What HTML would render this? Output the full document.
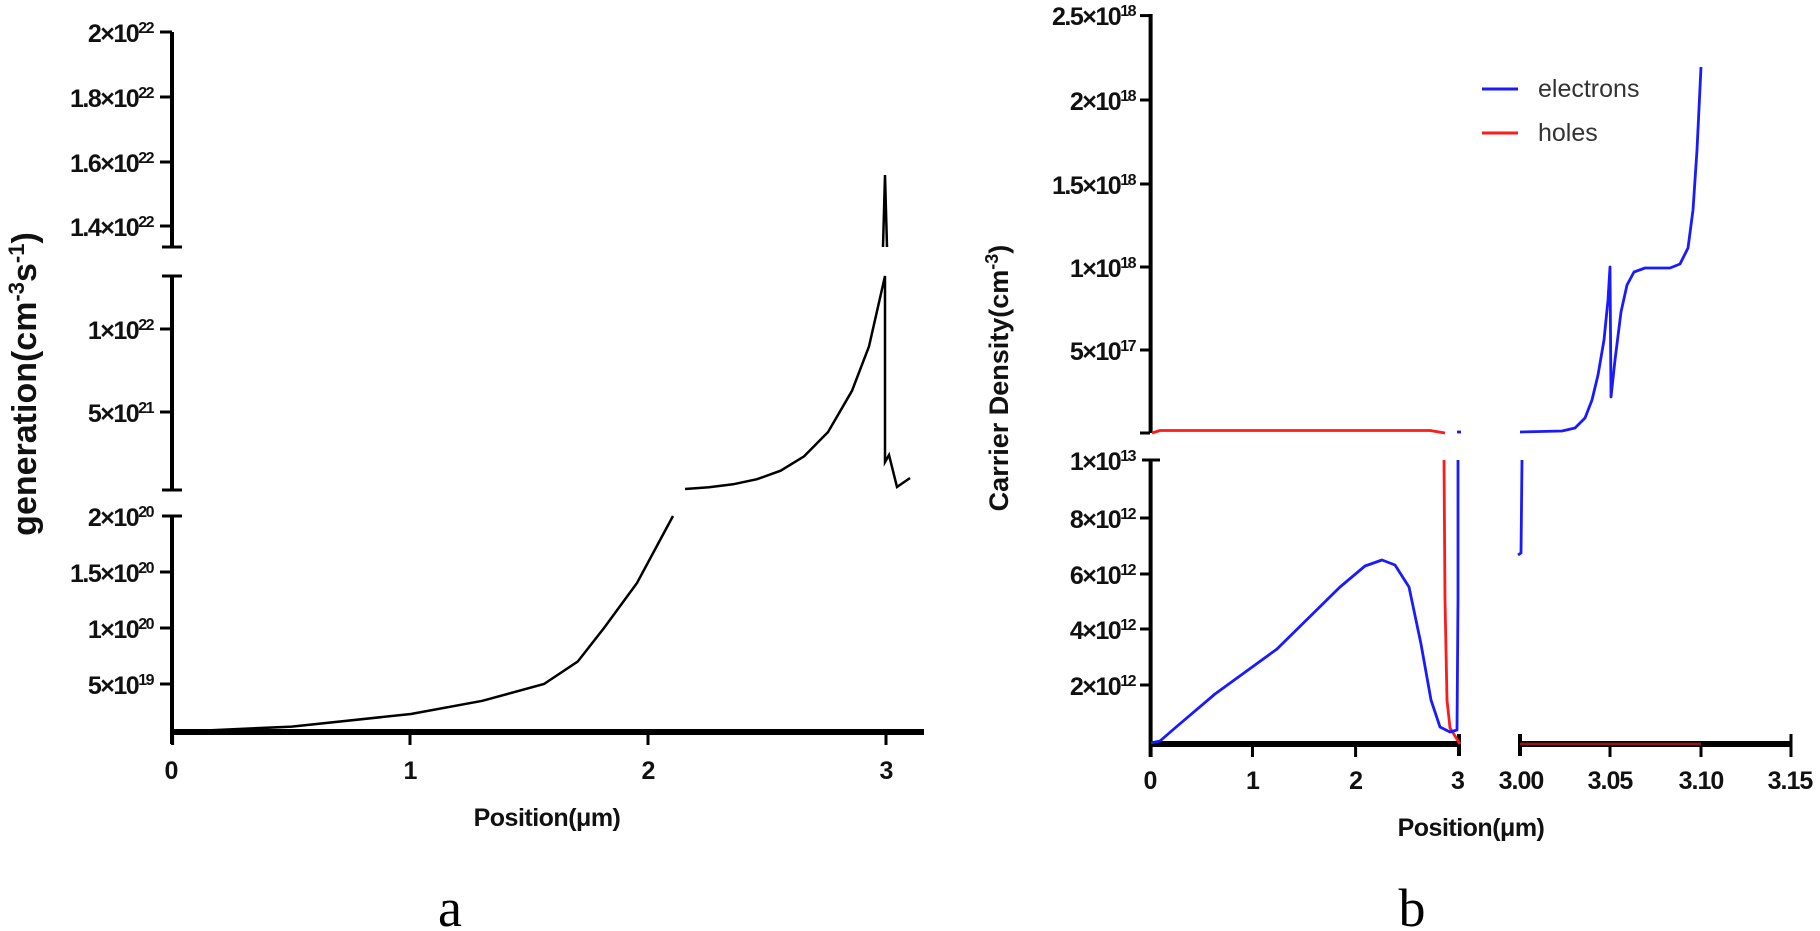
<!DOCTYPE html>
<html><head><meta charset="utf-8"><style>
html,body{margin:0;padding:0;background:#fff;}
svg{display:block;}
.sans{font-family:"Liberation Sans",Arial,sans-serif;}
.tl{font-size:25px;font-weight:bold;text-anchor:end;letter-spacing:-1.5px;fill:#111;}
.xl{font-size:25px;font-weight:bold;text-anchor:middle;letter-spacing:-1px;fill:#111;}
.ax{stroke:#000;stroke-width:4;fill:none;}
.tk{stroke:#000;stroke-width:3;}
.lab{font-family:"Liberation Serif","Times New Roman",serif;font-size:54px;fill:#000;text-anchor:middle;}
</style></head><body>
<svg width="1820" height="931" viewBox="0 0 1820 931" xmlns="http://www.w3.org/2000/svg">
<g class="sans">
<!-- ===== Chart a ===== -->
<line class="ax" x1="172" y1="32" x2="172" y2="247"/>
<line class="tk" x1="162" y1="247" x2="182" y2="247"/>
<line class="tk" x1="162" y1="276" x2="182" y2="276"/>
<line class="ax" x1="172" y1="276" x2="172" y2="490"/>
<line class="tk" x1="162" y1="490" x2="182" y2="490"/>
<line class="tk" x1="162" y1="516" x2="182" y2="516"/>
<line class="ax" x1="172" y1="516" x2="172" y2="744"/>
<g class="tk">
<line x1="160" y1="32" x2="172" y2="32"/><line x1="160" y1="97" x2="172" y2="97"/>
<line x1="160" y1="162" x2="172" y2="162"/><line x1="160" y1="226" x2="172" y2="226"/>
<line x1="160" y1="329" x2="172" y2="329"/><line x1="160" y1="412" x2="172" y2="412"/>
<line x1="160" y1="572" x2="172" y2="572"/><line x1="160" y1="628" x2="172" y2="628"/><line x1="160" y1="684" x2="172" y2="684"/>
</g>
<g class="tl">
<text x="153" y="42">2×10<tspan dy="-9" font-size="16">22</tspan></text>
<text x="153" y="107">1.8×10<tspan dy="-9" font-size="16">22</tspan></text>
<text x="153" y="172">1.6×10<tspan dy="-9" font-size="16">22</tspan></text>
<text x="153" y="236">1.4×10<tspan dy="-9" font-size="16">22</tspan></text>
<text x="153" y="339">1×10<tspan dy="-9" font-size="16">22</tspan></text>
<text x="153" y="422">5×10<tspan dy="-9" font-size="16">21</tspan></text>
<text x="153" y="526">2×10<tspan dy="-9" font-size="16">20</tspan></text>
<text x="153" y="582">1.5×10<tspan dy="-9" font-size="16">20</tspan></text>
<text x="153" y="638">1×10<tspan dy="-9" font-size="16">20</tspan></text>
<text x="153" y="694">5×10<tspan dy="-9" font-size="16">19</tspan></text>
</g>
<line x1="172" y1="732" x2="924" y2="732" stroke="#000" stroke-width="6"/>
<g class="tk"><line x1="172.6" y1="732" x2="172.6" y2="745"/><line x1="410" y1="732" x2="410" y2="745"/><line x1="648" y1="732" x2="648" y2="745"/><line x1="886" y1="732" x2="886" y2="745"/></g>
<g class="xl"><text x="171" y="779">0</text><text x="410" y="779">1</text><text x="648" y="779">2</text><text x="886" y="779">3</text></g>
<text x="547" y="826" font-size="25" font-weight="bold" text-anchor="middle" letter-spacing="-0.5" fill="#111">Position(μm)</text>
<text transform="translate(36,384) rotate(-90)" font-size="34" font-weight="bold" text-anchor="middle" fill="#111">generation(cm<tspan dy="-12" font-size="22">-3</tspan><tspan dy="12">s</tspan><tspan dy="-12" font-size="22">-1</tspan><tspan dy="12">)</tspan></text>
<g fill="none" stroke="#000" stroke-width="2.5">
<polyline points="172.6,732 291.8,726.6 410.9,714 482.4,700.8 544,684 577.7,661.6 604,628 637,583 673,516"/>
<polyline points="685,489 709,487.2 733,484.3 757,479.2 780.6,470.7 804,456.4 828,432.1 852,390.8 869,346.4 885,276 885,462 889,455 897,487 910,478"/>
<polyline points="883,247 885,175 887,247"/>
</g>

<!-- ===== Chart b ===== -->
<line class="ax" x1="1150.6" y1="14" x2="1150.6" y2="433"/>
<line class="tk" x1="1142" y1="460" x2="1160" y2="460"/>
<line class="ax" x1="1150.6" y1="460" x2="1150.6" y2="757"/>
<g class="tk">
<line x1="1140" y1="15.6" x2="1150" y2="15.6"/><line x1="1140" y1="100" x2="1150" y2="100"/>
<line x1="1140" y1="184" x2="1150" y2="184"/><line x1="1140" y1="267" x2="1150" y2="267"/>
<line x1="1140" y1="350" x2="1150" y2="350"/><line x1="1140" y1="433" x2="1150" y2="433"/>
<line x1="1140" y1="518" x2="1150" y2="518"/><line x1="1140" y1="574" x2="1150" y2="574"/>
<line x1="1140" y1="629" x2="1150" y2="629"/><line x1="1140" y1="685" x2="1150" y2="685"/>
</g>
<g class="tl">
<text x="1135" y="25">2.5×10<tspan dy="-9" font-size="16">18</tspan></text>
<text x="1135" y="110">2×10<tspan dy="-9" font-size="16">18</tspan></text>
<text x="1135" y="194">1.5×10<tspan dy="-9" font-size="16">18</tspan></text>
<text x="1135" y="277">1×10<tspan dy="-9" font-size="16">18</tspan></text>
<text x="1135" y="360">5×10<tspan dy="-9" font-size="16">17</tspan></text>
<text x="1135" y="470">1×10<tspan dy="-9" font-size="16">13</tspan></text>
<text x="1135" y="528">8×10<tspan dy="-9" font-size="16">12</tspan></text>
<text x="1135" y="584">6×10<tspan dy="-9" font-size="16">12</tspan></text>
<text x="1135" y="639">4×10<tspan dy="-9" font-size="16">12</tspan></text>
<text x="1135" y="695">2×10<tspan dy="-9" font-size="16">12</tspan></text>
</g>
<line x1="1150" y1="744" x2="1460" y2="744" stroke="#000" stroke-width="6"/>
<line x1="1459" y1="734" x2="1459" y2="756" stroke="#000" stroke-width="4"/>
<line x1="1518" y1="744" x2="1792" y2="744" stroke="#000" stroke-width="6"/>
<line x1="1520" y1="734" x2="1520" y2="756" stroke="#000" stroke-width="4"/>
<g class="tk">
<line x1="1252.5" y1="744" x2="1252.5" y2="757"/><line x1="1355.6" y1="744" x2="1355.6" y2="757"/>
<line x1="1610" y1="744" x2="1610" y2="757"/><line x1="1701" y1="744" x2="1701" y2="757"/><line x1="1791" y1="734" x2="1791" y2="757"/>
</g>
<g class="xl">
<text x="1150" y="789">0</text><text x="1252.5" y="789">1</text><text x="1355.6" y="789">2</text><text x="1457.5" y="789">3</text>
<text x="1521" y="789">3.00</text><text x="1610" y="789">3.05</text><text x="1701" y="789">3.10</text><text x="1790" y="789">3.15</text>
</g>
<text x="1471" y="836" font-size="25" font-weight="bold" text-anchor="middle" letter-spacing="-0.5" fill="#111">Position(μm)</text>
<text transform="translate(1008,378) rotate(-90)" font-size="27" font-weight="bold" text-anchor="middle" fill="#111">Carrier Density(cm<tspan dy="-10" font-size="18">-3</tspan><tspan dy="10">)</tspan></text>
<line x1="1482" y1="89" x2="1518" y2="89" stroke="#1a1aff" stroke-width="3"/>
<line x1="1482" y1="133" x2="1518" y2="133" stroke="#ff1a1a" stroke-width="3"/>
<text x="1538" y="97" font-size="25" fill="#333">electrons</text>
<text x="1538" y="141" font-size="25" fill="#333">holes</text>
<g fill="none" stroke-width="2.8" stroke-linejoin="round">
<polyline stroke="#ff1a1a" points="1152,433 1160,430.5 1430,430.5 1445,433"/>
<line stroke="#1a1aff" x1="1457" y1="432" x2="1461" y2="432"/>
<polyline stroke="#1a1aff" points="1520,432 1562,431 1575,428 1585,418 1592,400 1598,375 1604,340 1608,300 1610,267 1611,397 1615,360 1621,312 1627,285 1634,272 1645,268 1670,268 1680,264 1688,248 1693,210 1697,150 1701,67"/>
<polyline stroke="#ff1a1a" points="1444,460 1445,600 1447,700 1450,728 1460,744"/>
<polyline stroke="#1a1aff" points="1151,743 1160,741 1175,728 1215,694 1277,649 1340,587 1365,566 1382,560 1395,565 1409,587 1421,644 1431,700 1440,727 1450,732 1457,730 1458,600 1458,460"/>
<polyline stroke="#1a1aff" points="1522,460 1521,553 1518,555"/>
<line stroke="#8b1a1a" x1="1520" y1="744" x2="1701" y2="744"/>
</g>
</g>
<text class="lab" x="450" y="926">a</text>
<text class="lab" x="1412" y="926">b</text>
</svg>
</body></html>
